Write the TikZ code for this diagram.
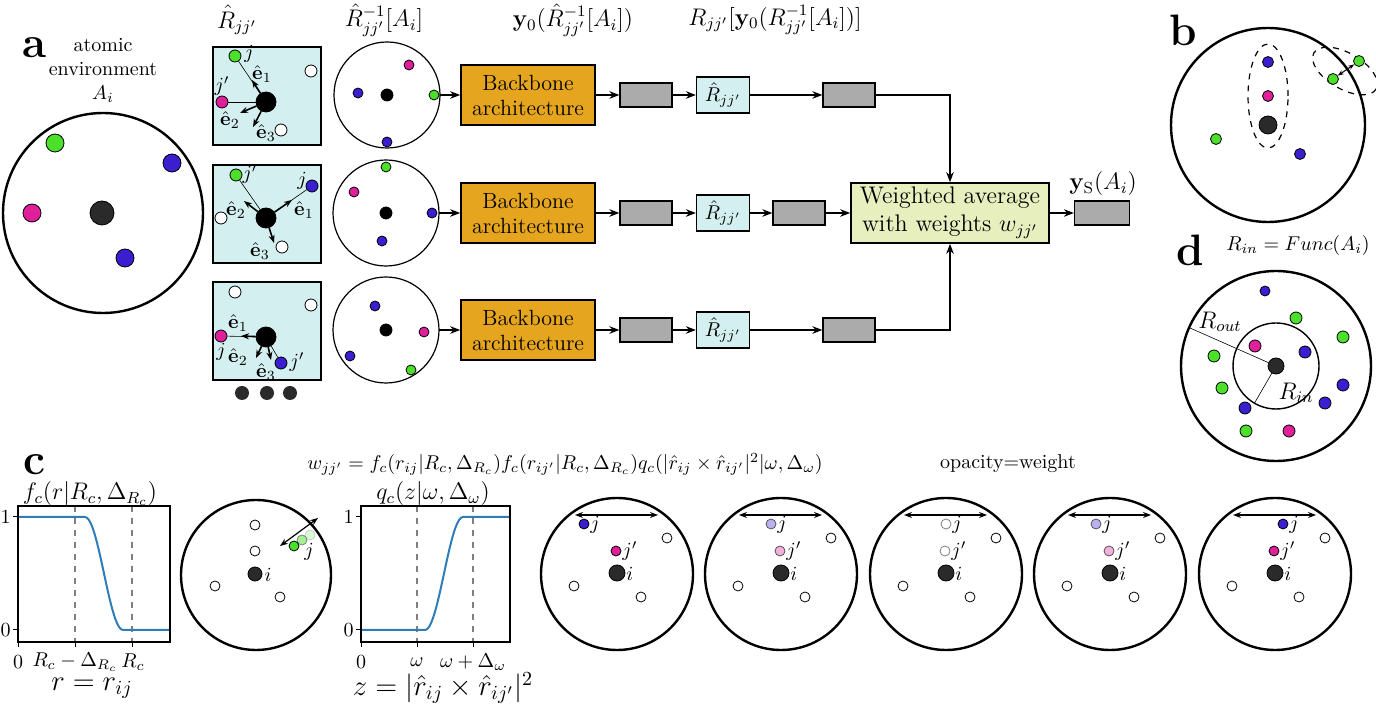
\documentclass[tikz,border=0pt]{standalone}
\usepackage{amsmath,amssymb}
\usetikzlibrary{arrows.meta,shapes.geometric}
\definecolor{cg}{HTML}{4CE02A}
\definecolor{cb}{HTML}{3A1FD0}
\definecolor{cm}{HTML}{E0209A}
\definecolor{cd}{HTML}{2A2A2A}
\definecolor{ccyan}{HTML}{D4EFEF}
\definecolor{corange}{HTML}{E5A51E}
\definecolor{cyel}{HTML}{E8EFBE}
\definecolor{cgray}{HTML}{ABABAB}
\definecolor{cplot}{HTML}{2E7DB8}
\newcommand\at[4]{\node[atom,fill=#1,minimum size=#2] (#3) at (#4) {};}
\begin{document}
\begin{tikzpicture}[x=0.5pt,y=-0.5pt,
  atom/.style={circle,draw=black,line width=0.4pt,inner sep=0pt},
  op/.style={atom,fill=white,minimum size=6pt},
  big/.style={line width=1.2pt},
  frame/.style={draw=black,line width=0.8pt,fill=ccyan},
  bb/.style={draw=black,line width=0.8pt,fill=corange,minimum width=67pt,minimum height=30pt,align=center,font=\fontsize{11}{12.5}\selectfont},
  gb/.style={draw=black,line width=0.6pt,fill=cgray,minimum width=26pt,minimum height=12pt,inner sep=0pt},
  rb/.style={draw=black,line width=0.6pt,fill=ccyan,minimum width=26.5pt,minimum height=18pt,inner sep=0pt},
  ar/.style={-{Stealth[length=5pt]},line width=0.8pt},
  ev/.style={-{Stealth[length=4pt]},line width=0.8pt},
  thin/.style={line width=0.3pt},
  lab/.style={font=\bfseries\fontsize{22}{22}\selectfont},
  sm/.style={font=\normalsize,inner sep=1pt},
  hd/.style={font=\large},
  da/.style={{Stealth[length=4pt]}-{Stealth[length=4pt]},line width=0.6pt},
  gdash/.style={dashed,line width=0.9pt,draw=gray},
]
\useasboundingbox (0,0) rectangle (1376,710);
% ---------- panel a ----------
\node[lab] (la) at (35,48) {a};
\node[align=center,font=\normalsize,inner sep=0pt] (envt) at (103,70) {atomic\\environment\\$A_i$};
\draw[big] (103,213) circle[radius=50pt];
\at{cg}{9pt}{a1}{55,143}
\at{cb}{9pt}{a2}{172,163}
\at{cm}{9pt}{a3}{32,213}
\at{cd}{12pt}{a0}{102,213}
\at{cb}{9pt}{a4}{125,258}
% headers
\node[hd] (h1) at (237,20) {$\hat R_{jj'}$};
\node[hd] (h2) at (384,20) {$\hat R^{-1}_{jj'}[A_i]$};
\node[hd] (h3) at (573,20) {$\mathbf{y}_0(\hat R^{-1}_{jj'}[A_i])$};
\node[hd] (h4) at (775,20) {$R_{jj'}[\mathbf{y}_0(R^{-1}_{jj'}[A_i])]$};
% frames
\foreach \yy in {47,165,282} \draw[frame] (213,\yy) rectangle (321,\yy+98);
% frame 1
\at{black}{10pt}{f1c}{266,102}
\at{cg}{6pt}{f1j}{235,56}
\at{cm}{6pt}{f1k}{222,102}
\node[op] (f1o1) at (311,71) {};
\node[op] (f1o2) at (281,130) {};
\draw[thin] (f1c) -- (f1j); \draw[thin] (f1c) -- (f1k);
\coordinate (f1e1) at (252,80); \coordinate (f1e2) at (240,113); \coordinate (f1e3) at (253,127);
\draw[ev] (f1c) -- (f1e1); \draw[ev] (f1c) -- (f1e2); \draw[ev] (f1c) -- (f1e3);
\node[sm] (f1l1) at (262,74) {$\hat{\mathbf e}_1$};
\node[sm] (f1l2) at (230,120) {$\hat{\mathbf e}_2$};
\node[sm] (f1l3) at (266,133) {$\hat{\mathbf e}_3$};
\node[sm] (f1lj) at (249,54) {$j$};
\node[sm] (f1lk) at (222,86) {$j'$};
% frame 2
\at{black}{10pt}{f2c}{266,218}
\at{cg}{6pt}{f2j}{236,175}
\at{cb}{6pt}{f2k}{312,186}
\node[op] (f2o1) at (221,218) {};
\node[op] (f2o2) at (282,247) {};
\draw[thin] (f2c) -- (f2j); \draw[thin] (f2c) -- (f2k);
\coordinate (f2e1) at (292,200); \coordinate (f2e2) at (244,201); \coordinate (f2e3) at (274,243);
\draw[ev] (f2c) -- (f2e1); \draw[ev] (f2c) -- (f2e2); \draw[ev] (f2c) -- (f2e3);
\node[sm] (f2l1) at (304,210) {$\hat{\mathbf e}_1$};
\node[sm] (f2l2) at (236,210) {$\hat{\mathbf e}_2$};
\node[sm] (f2l3) at (260,251) {$\hat{\mathbf e}_3$};
\node[sm] (f2lj) at (250,174) {$j'$};
\node[sm] (f2lk) at (302,181) {$j$};
% frame 3
\at{black}{10pt}{f3c}{266,337}
\at{cm}{6pt}{f3j}{221,336}
\at{cb}{6pt}{f3k}{281,363}
\node[op] (f3o1) at (235,292) {};
\node[op] (f3o2) at (311,305) {};
\draw[thin] (f3c) -- (f3j); \draw[thin] (f3c) -- (f3k);
\coordinate (f3e1) at (241,336); \coordinate (f3e2) at (256,358); \coordinate (f3e3) at (271,360);
\draw[ev] (f3c) -- (f3e1); \draw[ev] (f3c) -- (f3e2); \draw[ev] (f3c) -- (f3e3);
\node[sm] (f3l1) at (238,323) {$\hat{\mathbf e}_1$};
\node[sm] (f3l2) at (238,357) {$\hat{\mathbf e}_2$};
\node[sm] (f3l3) at (266,372) {$\hat{\mathbf e}_3$};
\node[sm] (f3lj) at (221,352) {$j$};
\node[sm] (f3lk) at (297,362) {$j'$};
% dots below
\foreach \xx/\nm in {242/d1,267/d2,290/d3} \node[circle,fill=cd,minimum size=7pt,inner sep=0pt] (\nm) at (\xx,393) {};
% rotated env circles
\draw[line width=0.6pt] (387,95) circle[radius=26.5pt];
\draw[line width=0.6pt] (386,213) circle[radius=26.5pt];
\draw[line width=0.6pt] (386,330) circle[radius=26.5pt];
\coordinate (c1r) at (440,95); \coordinate (c2r) at (439,213); \coordinate (c3r) at (439,330);
\at{black}{6pt}{c1c}{387,95}
\at{cm}{5pt}{c1a}{409,65}
\at{cb}{5pt}{c1b}{358,93}
\at{cg}{5pt}{c1d}{434,95}
\at{cb}{5pt}{c1e}{387,142}
\at{black}{6pt}{c2c}{386,213}
\at{cg}{5pt}{c2a}{386,167}
\at{cm}{5pt}{c2b}{354,192}
\at{cb}{5pt}{c2d}{432,213}
\at{cb}{5pt}{c2e}{382,241}
\at{black}{6pt}{c3c}{386,330}
\at{cb}{5pt}{c3a}{375,306}
\at{cm}{5pt}{c3b}{424,332}
\at{cb}{5pt}{c3d}{350,356}
\at{cg}{5pt}{c3e}{411,370}
% pipeline
\foreach \r/\yy in {1/95,2/213,3/330}{
  \node[bb] (bb\r) at (528,\yy) {Backbone\\architecture};
  \node[gb] (g\r) at (646,\yy) {};
  \node[rb] (r\r) at (723,\yy) {$\hat R_{jj'}$};
  \draw[ar] (c\r r) -- (bb\r);
  \draw[ar] (bb\r) -- (g\r);
  \draw[ar] (g\r) -- (r\r);
}
\node[gb] (o1) at (849,95) {};
\node[gb] (o2) at (799,213) {};
\node[gb] (o3) at (849,330) {};
\foreach \r in {1,2,3} \draw[ar] (r\r) -- (o\r);
\node[draw=black,line width=0.8pt,fill=cyel,minimum width=99pt,minimum height=30pt,align=center,font=\fontsize{12}{14}\selectfont,inner sep=1pt] (wa) at (950,213) {Weighted average\\with weights $w_{jj'}$};
\draw[ar] (o1) -| (wa.north);
\draw[ar] (o3) -| (wa.south);
\draw[ar] (o2) -- (wa);
\node[gb,minimum width=27.5pt] (ys) at (1102,213) {};
\draw[ar] (wa) -- (ys);
\node[hd] (ysl) at (1103,184) {$\mathbf{y}_{\mathrm S}(A_i)$};
% ---------- panel b ----------
\node[lab] (lb) at (1183,30) {b};
\draw[big] (1268,125) circle[radius=48.5pt];
\draw[dashed,line width=0.6pt] (1268,96) ellipse[x radius=10pt,y radius=26pt];
\draw[dashed,line width=0.6pt,rotate around={-30:(1345,71)}] (1345,71) ellipse[x radius=18pt,y radius=9pt];
\at{cb}{5.5pt}{b1}{1268,62}
\at{cm}{5.5pt}{b2}{1268,96}
\at{cd}{9pt}{b0}{1268,125}
\at{cg}{5.5pt}{b3}{1216,139}
\at{cb}{5.5pt}{b4}{1300,154}
\at{cg}{5.5pt}{b5}{1333,79}
\at{cg}{5.5pt}{b6}{1359,61}
\draw[{Stealth[length=3pt]}-{Stealth[length=3pt]},line width=0.5pt] (b5) -- (b6);
% ---------- panel d ----------
\node[lab] (ld) at (1190,250) {d};
\node (dt) at (1298,246) {$R_{in}=Func(A_i)$};
\draw[big] (1276,366) circle[radius=47.5pt];
\draw[line width=0.7pt] (1276,366) circle[radius=21.5pt];
\coordinate (dro) at (1190,328); \coordinate (dri) at (1254,404);
\at{cd}{8pt}{d0}{1276,366}
\draw[thin] (d0) -- (dro); \draw[thin] (d0) -- (dri);
\node[hd] (drol) at (1220,322) {$R_{out}$};
\node[hd] (dril) at (1296,393) {$R_{in}$};
\at{cb}{5pt}{dd1}{1265,291}
\at{cg}{6pt}{dd2}{1296,318}
\at{cg}{6pt}{dd3}{1343,337}
\at{cm}{6pt}{dd4}{1255,346}
\at{cb}{6pt}{dd5}{1305,352}
\at{cg}{6pt}{dd6}{1214,356}
\at{cg}{6pt}{dd7}{1222,388}
\at{cb}{6pt}{dd8}{1343,385}
\at{cb}{6pt}{dd9}{1325,403}
\at{cb}{6pt}{dd10}{1245,408}
\at{cg}{6pt}{dd11}{1246,431}
\at{cm}{6pt}{dd12}{1289,431}
% ---------- panel c ----------
\node[lab] (lc) at (35,465) {c};
\node[inner sep=1pt] (form) at (565,464) {$w_{jj'}=f_c(r_{ij}|R_c,\Delta_{R_c})f_c(r_{ij'}|R_c,\Delta_{R_c})q_c(|\hat r_{ij}\times\hat r_{ij'}|^2|\omega,\Delta_\omega)$};
\node (opw) at (1008,464) {opacity=weight};
% plot 1
\node[hd,inner sep=0pt] (p1t) at (90,494) {$f_c(r|R_c,\Delta_{R_c})$};
\draw[gdash] (75,506) -- (75,642); \draw[gdash] (132,506) -- (132,642);
\draw[cplot,line width=1pt] (18,517) -- (85,517) -- plot[domain=0:1,samples=20] ({85+38*\x},{517+113*(1-cos(180*\x))/2}) -- (170,630);
\draw[line width=0.6pt] (18,506) rectangle (170,642);
\foreach \yy/\t in {517/1,630/0} {\draw[line width=0.5pt] (18,\yy) -- (13,\yy); \node[anchor=east,inner sep=1pt] at (13,\yy) {\t};}
\foreach \xx in {18,75,132} \draw[line width=0.5pt] (\xx,642) -- (\xx,647);
\node (p1x0) at (18,662) {0};
\node (p1x1) at (75,662) {$R_c-\Delta_{R_c}$};
\node (p1x2) at (133,662) {$R_c$};
\node[font=\Large,inner sep=1pt] (p1xl) at (92,688) {$r=r_{ij}$};
% circle c1
\draw[big] (256,575) circle[radius=37.5pt];
\node[op,minimum size=5pt] at (255,525) {};
\node[op,minimum size=5pt] at (255,551) {};
\node[op,minimum size=5pt] at (215,586) {};
\node[op,minimum size=5pt] at (280,597) {};
\at{cd}{7pt}{ci}{255,574}
\node[atom,fill=cg!20,draw=black!20,minimum size=5pt] (cj3) at (310,535) {};
\node[atom,fill=cg!50,draw=black!50,minimum size=5pt] (cj2) at (302,540) {};
\at{cg}{5pt}{cj1}{294,546}
\coordinate (ca1) at (280,546); \coordinate (ca2) at (318,518);
\draw[da] (ca1) -- (ca2);
\node[sm] at (309,552) {$j$};
\node[sm] at (268,575) {$i$};
% plot 2
\node[hd,inner sep=0pt] (p2t) at (433,494) {$q_c(z|\omega,\Delta_\omega)$};
\draw[gdash] (417,506) -- (417,642); \draw[gdash] (473,506) -- (473,642);
\draw[cplot,line width=1pt] (361,630) -- (425,630) -- plot[domain=0:1,samples=20] ({425+38*\x},{630-113*(1-cos(180*\x))/2}) -- (510,517);
\draw[line width=0.6pt] (361,506) rectangle (510,642);
\foreach \yy/\t in {517/1,630/0} {\draw[line width=0.5pt] (361,\yy) -- (356,\yy); \node[anchor=east,inner sep=1pt] at (356,\yy) {\t};}
\foreach \xx in {361,417,473} \draw[line width=0.5pt] (\xx,642) -- (\xx,647);
\node (p2x0) at (361,662) {0};
\node (p2x1) at (417,662) {$\omega$};
\node (p2x2) at (473,662) {$\omega+\Delta_\omega$};
\node[font=\Large,inner sep=1pt] (p2xl) at (443,688) {$z=|\hat r_{ij}\times\hat r_{ij'}|^2$};
% five circles
\foreach \k/\cx/\jx/\op in {1/617/-33/100,2/781/-10/35,3/946/0/0,4/1110/-14/35,5/1275/8/100}{
  \draw[big] (\cx,574) circle[radius=38pt];
  \coordinate (q\k a) at (\cx-42,515); \coordinate (q\k b) at (\cx+41,515);
  \draw[da] (q\k a) -- (q\k b);
  \node[atom,fill=white,minimum size=5pt] (q\k o1) at (\cx+50,538) {};
  \node[atom,fill=white,minimum size=5pt] (q\k o2) at (\cx-43,586) {};
  \node[atom,fill=white,minimum size=5pt] (q\k o3) at (\cx+24,597) {};
  \node[atom,fill=cd,minimum size=8pt] (q\k i) at (\cx,573) {};
  \node[atom,fill=cb!\op!white,draw=black!\op!gray,minimum size=5pt] (q\k j) at (\cx+\jx,524) {};
  \node[atom,fill=cm!\op!white,draw=black!\op!gray,minimum size=5pt] (q\k k) at (\cx-1,551) {};
  \node[sm,anchor=west] at (\cx+\jx+4,525) {$j$};
  \node[sm,anchor=west] at (\cx+3,551) {$j'$};
  \node[sm,anchor=west] at (\cx+7,574) {$i$};
}
\end{tikzpicture}
\end{document}
